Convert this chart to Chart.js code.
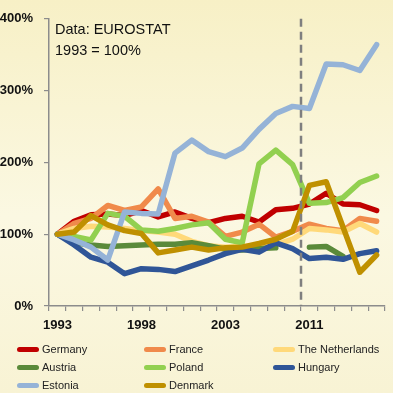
<!DOCTYPE html>
<html>
<head>
<meta charset="utf-8">
<script src="https://cdn.jsdelivr.net/npm/chart.js@4"></script>
<style>
  body { margin: 0; }
  #wrap {
    position: relative; width: 393px; height: 393px;
    background: linear-gradient(180deg, #f7f0c6 0%, #fbf8e2 55%, #f8f3d4 100%);
    font-family: "Liberation Sans", Arial, sans-serif;
  }
  #note { position: absolute; left: 55px; top: 19px; font-size: 14.5px; line-height: 21px; color: #111; }
  .item { position: absolute; height: 14px; display: flex; align-items: center; font-size: 11px; color: #222; white-space: nowrap; }
  .sw { width: 22px; height: 5px; border-radius: 3px; margin-right: 3px; }
</style>
</head>
<body>
<div id="wrap">
  <canvas id="chart" width="393" height="393"></canvas>
  <div id="note">Data: EUROSTAT<br>1993 = 100%</div>
  <div id="legend"></div>
</div>
<script>
const years = ['1993','1994','1995','1996','1997','1998','1999','2000','2001','2002',
  '2003','2004','2005','2006','2007','2011','2012','2013','2014','2015'];
const yTicks = [0, 100, 200, 300, 400];

const names = ['Germany','France','The Netherlands','Austria','Poland','Hungary','Estonia','Denmark'];
const colors = ['#c00000','#f08a4b','#ffd97a','#5a8a3a','#92d050','#2f5597','#95b3d7','#bf9000'];

const germany = [100,118,127,128,126,133,124,131,122,116,122,125,117,134,136,142,157,142,141,133];
const france = [100,115,122,140,133,138,163,122,125,117,97,103,114,96,104,114,108,105,122,118];
const netherlands = [100,108,111,110,108,105,103,100,90,84,82,83,84,85,93,108,106,103,115,103];
const austria = [100,88,85,83,84,85,86,86,88,84,79,78,80,81,null,82,83,69,null,null];
const poland = [100,97,92,129,125,106,104,108,113,116,93,88,198,217,197,143,144,151,172,181];
const hungary = [100,85,68,61,45,52,51,48,56,64,73,79,75,88,80,66,68,65,73,77];
const estonia = [100,92,82,64,131,129,128,213,231,215,208,220,246,268,278,275,337,336,328,364];
const denmark = [100,103,126,113,105,101,74,78,82,78,81,82,87,93,104,168,173,110,47,71];

const series = [germany, france, netherlands, austria, poland, hungary, estonia, denmark];

// dashed line between the two periods (before index 15)
const breakLine = {
  id: 'breakLine',
  afterDatasetsDraw(chart) {
    const x = chart.scales.x;
    const area = chart.chartArea;
    const px = (x.getPixelForTick(14) + x.getPixelForTick(15)) / 2;
    const ctx = chart.ctx;
    ctx.save();
    ctx.strokeStyle = '#7f7f7f';
    ctx.lineWidth = 2.5;
    ctx.setLineDash([8, 5]);
    ctx.beginPath();
    ctx.moveTo(px, area.top);
    ctx.lineTo(px, area.bottom);
    ctx.stroke();
    ctx.restore();
  }
};

new Chart(document.getElementById('chart'), {
  type: 'line',
  data: {
    labels: years,
    datasets: series.map((d, i) => ({
      label: names[i],
      data: d,
      borderColor: colors[i],
      backgroundColor: colors[i],
      borderWidth: 5.5,
      pointRadius: 0,
      tension: 0,
      borderCapStyle: 'round',
      borderJoinStyle: 'round',
      spanGaps: false,
      order: series.length - i
    }))
  },
  options: {
    responsive: false,
    animation: false,
    layout: { padding: { top: 17, right: 8, bottom: 57, left: 0 } },
    plugins: { legend: { display: false }, tooltip: { enabled: false } },
    scales: {
      x: {
        offset: true,
        afterFit: s => { s.height = 30; },
        border: { color: '#8c8c8c', width: 1.5 },
        grid: { offset: true, drawOnChartArea: false, tickLength: 5, color: '#8c8c8c', lineWidth: 1.2 },
        ticks: {
          autoSkip: false, maxRotation: 0, padding: 7, color: '#111',
          font: { family: 'Liberation Sans', size: 13, weight: 'bold' },
          callback: (v, i) => (i % 5 === 0 ? years[i] : '')
        }
      },
      y: {
        min: 0, max: 400,
        afterFit: s => { s.width = 49; },
        afterBuildTicks: s => { s.ticks = yTicks.map(v => ({ value: v })); },
        border: { color: '#8c8c8c', width: 1.5 },
        grid: { drawOnChartArea: false, tickLength: 5, color: '#8c8c8c', lineWidth: 1.2 },
        ticks: {
          padding: 11, color: '#111',
          font: { family: 'Liberation Sans', size: 13, weight: 'bold' },
          callback: v => v + '%'
        }
      }
    }
  },
  plugins: [breakLine]
});

// three-column legend under the chart
const cols = [17, 144, 273];
const rows = [349, 367, 385];
const legend = document.getElementById('legend');
names.forEach((n, i) => {
  const el = document.createElement('div');
  el.className = 'item';
  el.style.left = cols[i % 3] + 'px';
  el.style.top = (rows[Math.floor(i / 3)] - 7) + 'px';
  el.innerHTML = '<span class="sw" style="background:' + colors[i] + '"></span>' + n;
  legend.appendChild(el);
});
</script>
</body>
</html>
